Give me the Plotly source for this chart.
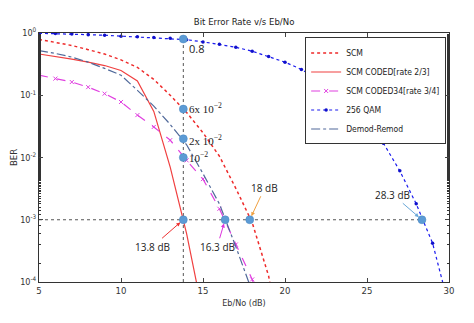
import numpy as np
import plotly.graph_objects as go

# ---------------- data ----------------
ebno = [5, 6, 7, 8, 9, 10, 11, 12, 13, 14, 15, 16, 17, 18, 19, 20]
scm = [0.79, 0.71, 0.63, 0.54, 0.46, 0.37, 0.28, 0.18, 0.10, 0.053, 0.025, 0.0105, 3.2e-3, 9e-4, 1.25e-4, 5e-6]

ebno_c23 = [5, 6, 7, 8, 9, 10, 11, 12, 13, 14, 15]
scm_coded23 = [0.46, 0.42, 0.38, 0.34, 0.30, 0.25, 0.17, 0.055, 7e-3, 6e-4, 3e-5]

ebno_c34 = [5, 6, 7, 8, 9, 10, 11, 12, 13, 14, 15, 16, 17, 18, 19]
scm_coded34 = [0.21, 0.185, 0.163, 0.135, 0.106, 0.078, 0.048, 0.031, 0.019, 9e-3, 4.5e-3, 1.5e-3, 4e-4, 1.1e-4, 2e-5]

ebno_qam = list(range(5, 31))
qam256 = [0.99, 0.98, 0.96, 0.94, 0.92, 0.89, 0.87, 0.85, 0.82, 0.78, 0.72, 0.66, 0.59,
          0.51, 0.42, 0.34, 0.26, 0.18, 0.12, 0.073, 0.037, 0.017, 6.1e-3, 1.8e-3, 4.2e-4, 4e-5]

ebno_dr = [5, 6, 7, 8, 9, 10, 11, 12, 13, 14, 15, 16, 17, 18]
demod_remod = [0.52, 0.47, 0.41, 0.34, 0.27, 0.21, 0.12, 0.067, 0.034, 0.016, 5.5e-3, 1.8e-3, 3.7e-4, 7e-5]

# highlighted points
mark_x = [13.8, 13.8, 13.8, 13.8, 13.8, 16.35, 17.85, 28.35]
mark_y = [0.8, 0.06, 0.02, 0.01, 1e-3, 1e-3, 1e-3, 1e-3]
vline_x = [13.8, 13.8]
vline_y = [0.8, 1e-4]
hline_x = [5, 28.35]
hline_y = [1e-3, 1e-3]

ytick_vals = [1e-4, 1e-3, 1e-2, 1e-1, 1]
ytick_text = ["10<sup>-4</sup>", "10<sup>-3</sup>", "10<sup>-2</sup>", "10<sup>-1</sup>", "10<sup>0</sup>"]
xtick_vals = [5, 10, 15, 20, 25, 30]

NARROW = "Liberation Sans Narrow, Arial Narrow, DejaVu Sans Condensed, Liberation Sans, sans-serif"

fig = go.Figure()

fig.add_trace(go.Scatter(x=vline_x, y=vline_y, mode="lines", showlegend=False,
                         line=dict(color="#555555", width=1, dash="dot"), hoverinfo="skip"))
fig.add_trace(go.Scatter(x=hline_x, y=hline_y, mode="lines", showlegend=False,
                         line=dict(color="#555555", width=1, dash="dot"), hoverinfo="skip"))

fig.add_trace(go.Scatter(x=ebno, y=scm, mode="lines", name="SCM",
                         line=dict(color="#ee2a2a", width=1.5, dash="dot")))
fig.add_trace(go.Scatter(x=ebno_c23, y=scm_coded23, mode="lines", name="SCM CODED[rate 2/3]",
                         line=dict(color="#f04040", width=1.2)))
fig.add_trace(go.Scatter(x=ebno_c34, y=scm_coded34, mode="lines+markers", name="SCM CODED34[rate 3/4]",
                         line=dict(color="#e040e0", width=1.2, dash="dash"),
                         marker=dict(symbol="x-thin-open", size=4, color="#e040e0",
                                     line=dict(width=1, color="#e040e0"))))
fig.add_trace(go.Scatter(x=ebno_qam, y=qam256, mode="lines+markers", name="256 QAM",
                         line=dict(color="#1a1aee", width=1.2, dash="dot"),
                         marker=dict(symbol="circle", size=3.5, color="#1010cc")))
fig.add_trace(go.Scatter(x=ebno_dr, y=demod_remod, mode="lines", name="Demod-Remod",
                         line=dict(color="#50699a", width=1.2, dash="dashdot")))

fig.add_trace(go.Scatter(x=mark_x, y=mark_y, mode="markers", showlegend=False,
                         marker=dict(symbol="circle", size=8, color="#5b9bd5",
                                     line=dict(width=0.5, color="#4a86c0")), hoverinfo="skip"))

SERIF = "Liberation Serif, DejaVu Serif, serif"
SANS = "Open Sans, Liberation Sans, sans-serif"
annots = [
    dict(x=13.8, y=np.log10(0.8), text="0.8", xshift=4, yshift=-9, fam=SANS),
    dict(x=13.8, y=np.log10(0.06), text="6x 10<sup>\u22122</sup>", xshift=4, yshift=1, fam=SERIF),
    dict(x=13.8, y=np.log10(0.02), text="2x 10<sup>\u22122</sup>", xshift=4, yshift=-1, fam=SERIF),
    dict(x=13.8, y=np.log10(0.01), text="10<sup>\u22122</sup>", xshift=4, yshift=1, fam=SERIF),
]
for a in annots:
    fig.add_annotation(x=a["x"], y=a["y"], text=a["text"], showarrow=False,
                       xanchor="left", yanchor="middle", xshift=a["xshift"], yshift=a["yshift"],
                       font=dict(family=a["fam"], size=11, color="#222222"))

arrows = [
    (13.8, "13.8 dB", -31, 27, "#ee3030"),
    (16.35, "16.3 dB", -8, 27, "#dd33dd"),
    (17.85, "18 dB", 15, -32, "#f0a040"),
    (28.35, "28.3 dB", -29, -25, "#6aa8d8"),
]
for xv, txt, ax, ay, col in arrows:
    fig.add_annotation(x=xv, y=-3, text=txt, showarrow=True, ax=ax, ay=ay,
                       arrowhead=2, arrowsize=0.8, arrowwidth=1, arrowcolor=col, standoff=4,
                       font=dict(family=SANS, size=10, color="#222222"))

fig.update_layout(
    width=474, height=323,
    margin=dict(l=39, r=25, t=33, b=41, autoexpand=False),
    paper_bgcolor="white", plot_bgcolor="white",
    title=dict(text="Bit Error Rate v/s Eb/No", x=0.515, xanchor="center", y=1 - 22 / 323,
               yanchor="middle", font=dict(family=NARROW, size=9.5, color="#222222")),
    font=dict(family=NARROW, size=9, color="#333333"),
    legend=dict(x=0.993, y=0.982, xanchor="right", yanchor="top",
                bgcolor="white", bordercolor="#333333", borderwidth=1,
                font=dict(family=NARROW, size=8.5, color="#222222"),
                itemwidth=30, tracegroupgap=0),
    showlegend=True,
)
fig.update_xaxes(range=[5, 30], tickvals=xtick_vals, ticks="inside", ticklen=4,
                 showline=True, linecolor="#333333", linewidth=1, mirror="ticks",
                 showgrid=False, zeroline=False,
                 title=dict(text="Eb/No (dB)", standoff=4, font=dict(family=NARROW, size=9)),
                 tickfont=dict(family=NARROW, size=9.5, color="#333333"))
fig.update_yaxes(type="log", range=[-4, 0], tickvals=ytick_vals, ticktext=ytick_text,
                 ticks="inside", ticklen=4, showline=True, linecolor="#333333", linewidth=1,
                 mirror="ticks", showgrid=False, zeroline=False,
                 minor=dict(ticks="inside", ticklen=2, tickcolor="#333333", showgrid=False),
                 title=dict(text="BER", standoff=0, font=dict(family=NARROW, size=9.5)),
                 tickfont=dict(family=NARROW, size=9, color="#333333"))

fig.write_html("out.html")
